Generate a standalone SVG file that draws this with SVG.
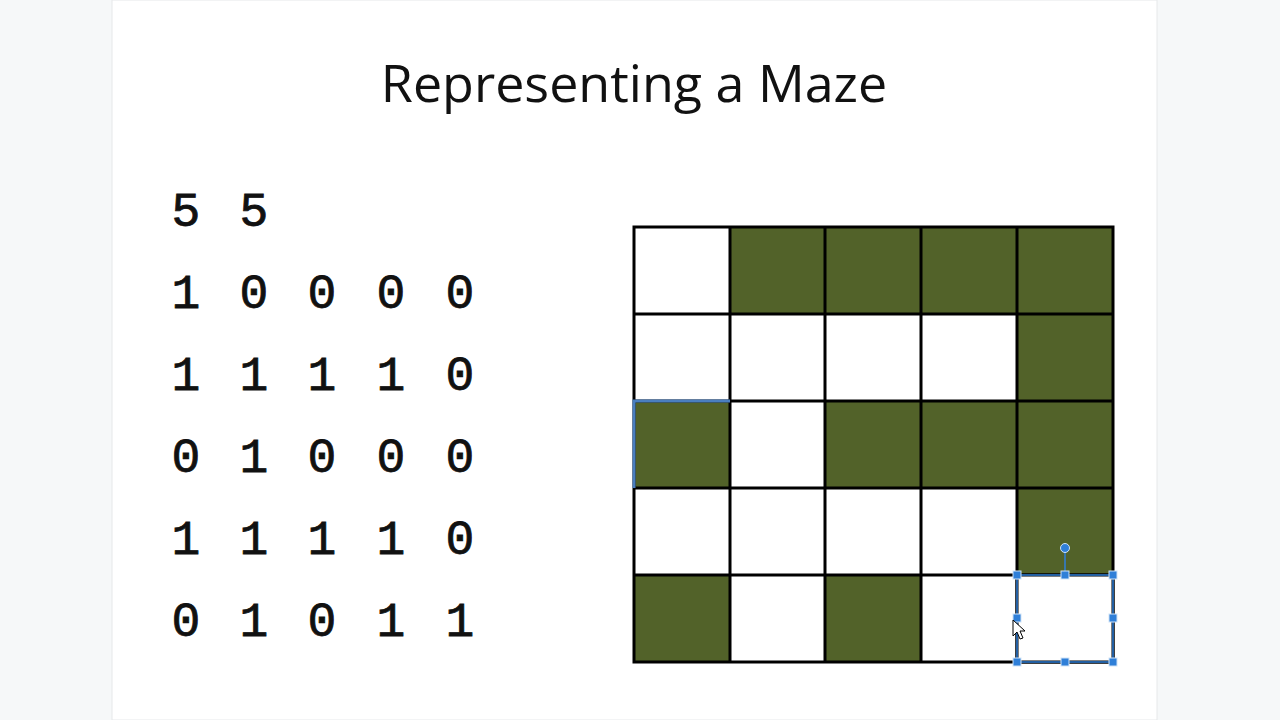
<svg xmlns="http://www.w3.org/2000/svg" width="1280" height="720" viewBox="0 0 1280 720">
<style>
.n{font-family:"Liberation Mono",monospace;font-size:48px;fill:#111;text-anchor:middle;stroke:#111;stroke-width:0.8}
.g{fill:#526229}
.h{fill:#2f7fd8;stroke:#cfe3f7;stroke-width:1}
</style>
<rect width="1280" height="720" fill="#f6f8f9"/>
<rect x="112" y="0" width="1045" height="720" fill="#fff" stroke="#e6e8ea"/>
<text x="634" y="102" font-family="Open Sans, Liberation Sans, sans-serif" font-size="52" text-anchor="middle" fill="#111">Representing a Maze</text>
<g id="numbers">
<text class="n" x="186" y="226">5</text><text class="n" x="254" y="226">5</text>
<text class="n" x="186" y="308">1</text><text class="n" x="254" y="308">0</text><text class="n" x="322" y="308">0</text><text class="n" x="391" y="308">0</text><text class="n" x="460" y="308">0</text>
<text class="n" x="186" y="390">1</text><text class="n" x="254" y="390">1</text><text class="n" x="322" y="390">1</text><text class="n" x="391" y="390">1</text><text class="n" x="460" y="390">0</text>
<text class="n" x="186" y="472">0</text><text class="n" x="254" y="472">1</text><text class="n" x="322" y="472">0</text><text class="n" x="391" y="472">0</text><text class="n" x="460" y="472">0</text>
<text class="n" x="186" y="554">1</text><text class="n" x="254" y="554">1</text><text class="n" x="322" y="554">1</text><text class="n" x="391" y="554">1</text><text class="n" x="460" y="554">0</text>
<text class="n" x="186" y="636">0</text><text class="n" x="254" y="636">1</text><text class="n" x="322" y="636">0</text><text class="n" x="391" y="636">1</text><text class="n" x="460" y="636">1</text>
</g>
<g id="grid">
<rect class="g" x="730" y="227" width="95" height="87"/><rect class="g" x="825" y="227" width="96" height="87"/><rect class="g" x="921" y="227" width="96" height="87"/><rect class="g" x="1017" y="227" width="96" height="87"/>
<rect class="g" x="1017" y="314" width="96" height="87"/>
<rect class="g" x="634" y="401" width="96" height="87"/><rect class="g" x="825" y="401" width="96" height="87"/><rect class="g" x="921" y="401" width="96" height="87"/><rect class="g" x="1017" y="401" width="96" height="87"/>
<rect class="g" x="1017" y="488" width="96" height="87"/>
<rect class="g" x="634" y="575" width="96" height="87"/><rect class="g" x="825" y="575" width="96" height="87"/>
<g stroke="#000" stroke-width="3" fill="none">
<rect x="634" y="227" width="479" height="435"/>
<path d="M730 227V662M825 227V662M921 227V662M1017 227V662M634 314H1113M634 401H1113M634 488H1113M634 575H1113"/>
</g>
<path d="M634 488V401H730" stroke="#4a7fc0" stroke-width="3" fill="none"/>
</g>
<g id="selection">
<rect x="1017" y="575" width="96" height="87" fill="#fff" stroke="#000" stroke-width="3"/>
<rect x="1017" y="575" width="96" height="87" fill="none" stroke="#2f7fd8" stroke-width="1.5" stroke-dasharray="none" transform="translate(0,0)"/>
<line x1="1065" y1="548" x2="1065" y2="575" stroke="#2f7fd8" stroke-width="1.5"/>
<circle cx="1065" cy="548" r="4.5" class="h"/>
<rect class="h" x="1013" y="571" width="8" height="8"/><rect class="h" x="1061" y="571" width="8" height="8"/><rect class="h" x="1109" y="571" width="8" height="8"/>
<rect class="h" x="1013" y="614" width="8" height="8"/><rect class="h" x="1109" y="614" width="8" height="8"/>
<rect class="h" x="1013" y="658" width="8" height="8"/><rect class="h" x="1061" y="658" width="8" height="8"/><rect class="h" x="1109" y="658" width="8" height="8"/>
<path d="M1013 620L1013 636L1017 632L1020 639L1023 638L1020 631L1025 631Z" fill="#fff" stroke="#000" stroke-width="1"/>
</g>
</svg>
